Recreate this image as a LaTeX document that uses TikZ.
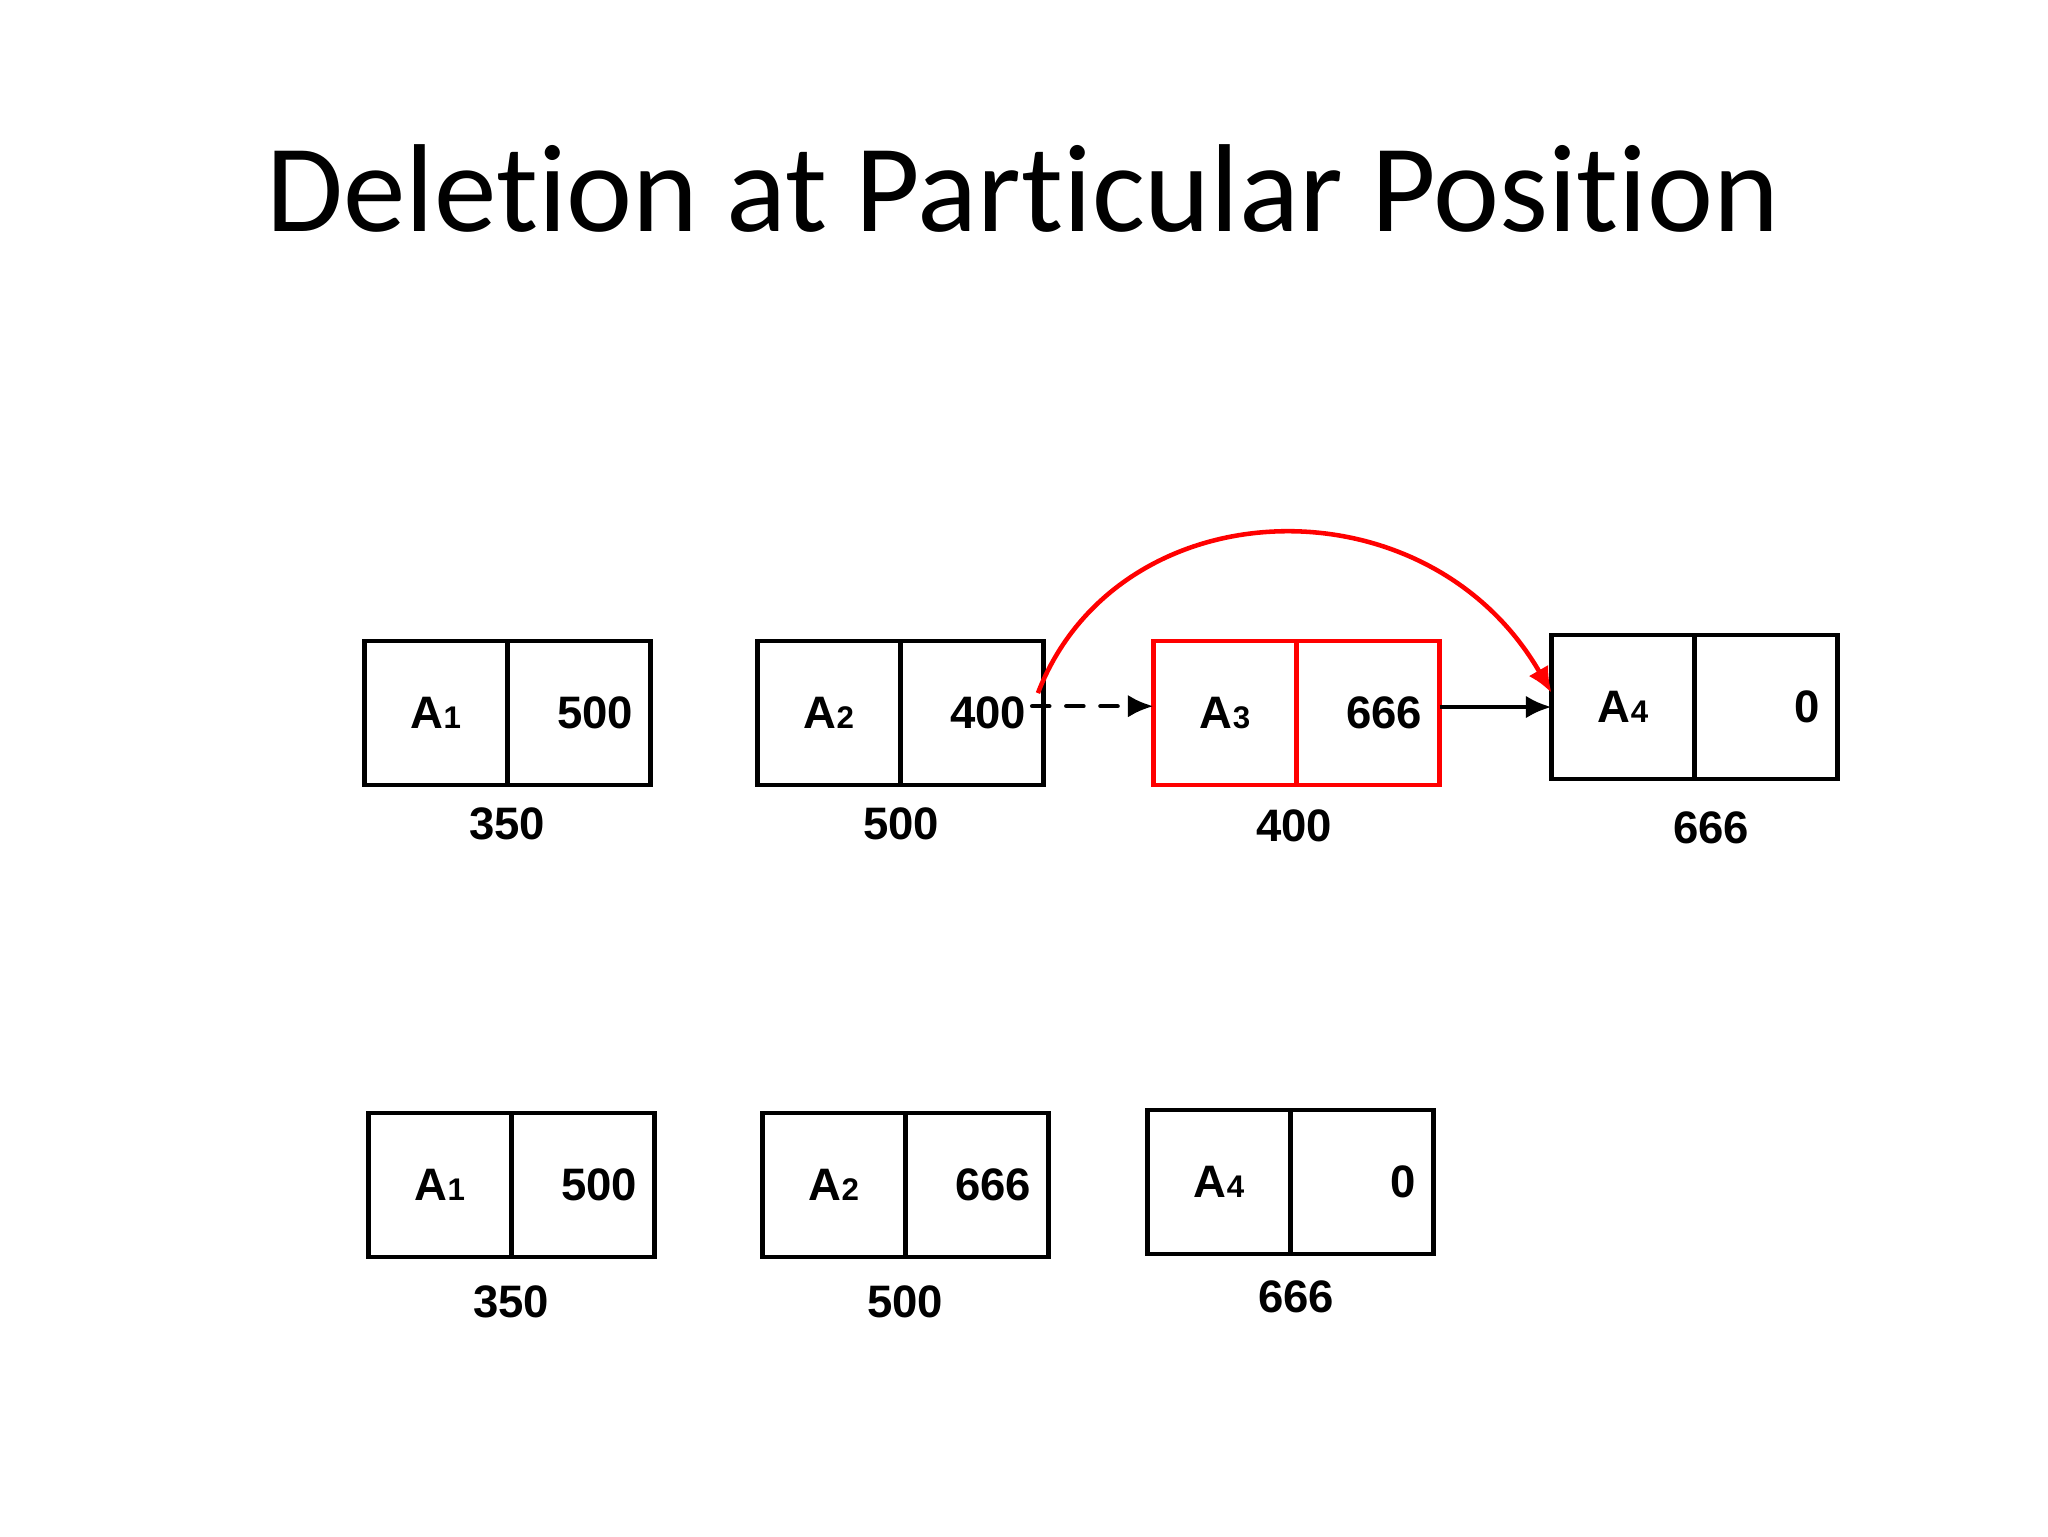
\documentclass[tikz,border=0pt]{standalone}
\usepackage{fontspec}
\setmainfont{Carlito}[RawFeature={-liga;-clig;-dlig}]
\newfontfamily\boxfont{Liberation Sans}
\usetikzlibrary{positioning,arrows.meta}
\newcommand{\subidx}[1]{{\fontsize{11}{11}\selectfont #1}}

\begin{document}
\begin{tikzpicture}[x=0.3516pt, y=-0.3516pt,
datacell/.style={rectangle, draw=black, line width=1.6pt, outer sep=0pt, minimum width=50.3pt, minimum height=50.5pt, inner sep=0pt, font=\boxfont\fontsize{16}{18}\selectfont\bfseries},
linkcell/.style={datacell, text width=38pt, align=right, inner xsep=6.15pt},
addrlabel/.style={font=\boxfont\fontsize{16}{18}\selectfont\bfseries},
linkarrow/.style={line width=1.6pt, -{Latex[length=9pt, width=8pt]}},
]
\useasboundingbox (0,0) rectangle (2048,1536);

%Title
\node[anchor=base, font=\fontsize{44}{50}\selectfont] (title) at (1023,231) {Deletion at Particular Position};

%Nodes (before deletion)
\node[datacell]           (data1) at (436,713) {A\subidx{1}};
\node[linkcell, right=0pt of data1] (link1) {500};
\node[datacell]           (data2) at (829,713) {A\subidx{2}};
\node[linkcell, right=0pt of data2] (link2) {400};
\node[datacell, draw=red] (data3) at (1225,713) {A\subidx{3}};
\node[linkcell, draw=red, right=0pt of data3] (link3) {666};
\node[datacell]           (data4) at (1623,707) {A\subidx{4}};
\node[linkcell, right=0pt of data4] (link4) {0};

\node[addrlabel] (addr1) at (507,824) {350};
\node[addrlabel] (addr2) at (901,824) {500};
\node[addrlabel] (addr3) at (1294,826) {400};
\node[addrlabel] (addr4) at (1711,828) {666};

%Nodes (after deletion)
\node[datacell]           (newdata1) at (440,1185) {A\subidx{1}};
\node[linkcell, right=0pt of newdata1] (newlink1) {500};
\node[datacell]           (newdata2) at (834,1185) {A\subidx{2}};
\node[linkcell, right=0pt of newdata2] (newlink2) {666};
\node[datacell]           (newdata4) at (1219,1182) {A\subidx{4}};
\node[linkcell, right=0pt of newdata4] (newlink4) {0};

\node[addrlabel] (newaddr1) at (511,1302) {350};
\node[addrlabel] (newaddr2) at (905,1302) {500};
\node[addrlabel] (newaddr4) at (1296,1297) {666};

%Lines
\draw[linkarrow, line cap=round, dash pattern=on 6pt off 6pt] ([xshift=-4pt, yshift=2.4pt]link2.east) -- ([yshift=2.4pt]data3.west);
\draw[linkarrow] (link3.east |- data4.west) -- (data4.west);
\draw[linkarrow, red] ([xshift=-2pt, yshift=7pt]link2.east) .. controls +(80,-207) and +(-125,-217) .. ([yshift=5pt]data4.west);
\end{tikzpicture}
\end{document}
